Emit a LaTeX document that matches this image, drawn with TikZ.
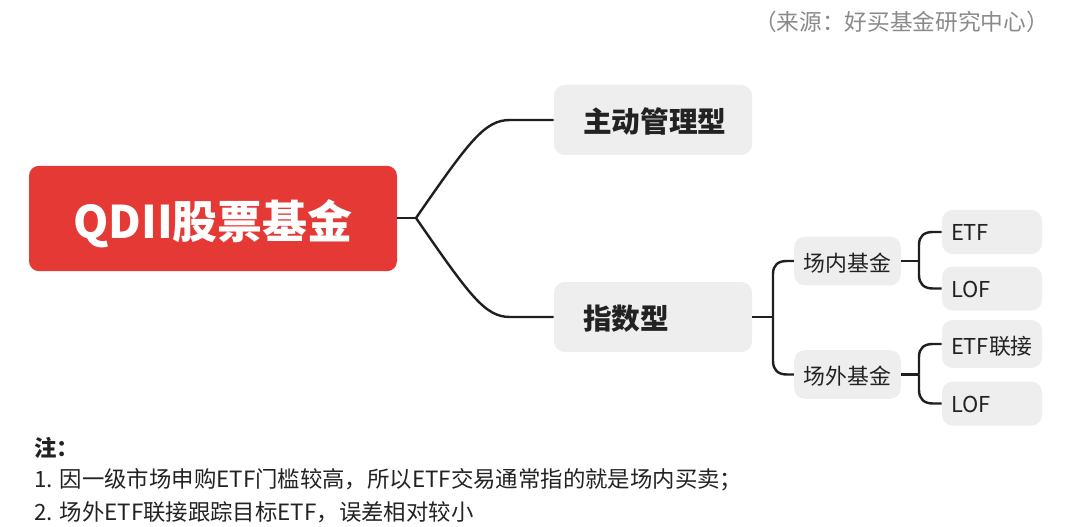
\documentclass[tikz,border=0pt]{standalone}
\usepackage{fontspec}
\setmainfont{Noto Sans CJK SC}
\definecolor{rootred}{HTML}{E53935}
\definecolor{boxgray}{HTML}{EEEEEE}
\definecolor{textdark}{HTML}{222222}
\definecolor{linedark}{HTML}{1F1F1F}
\definecolor{sourcegray}{HTML}{8A8A8A}
\tikzset{
  rootbox/.style={fill=rootred, rounded corners=7.5pt, text=white, font=\fontsize{33.7}{36}\selectfont\bfseries, minimum width=276pt, minimum height=79pt, inner sep=0pt, text height=30.5pt, text depth=0pt},
  bigbox/.style={fill=boxgray, rounded corners=8pt, font=\fontsize{21.5}{24}\selectfont\bfseries, text=textdark, minimum width=148.5pt, minimum height=52.5pt, inner sep=0pt, text width=105pt, align=left, text height=18.6pt, text depth=0pt},
  midbox/.style={fill=boxgray, rounded corners=8pt, font=\fontsize{16.4}{18}\selectfont, text=textdark, minimum width=80pt, minimum height=36.5pt, inner sep=0pt, text height=15.4pt, text depth=0pt},
  leafbox/.style={fill=boxgray, rounded corners=8pt, font=\fontsize{16.4}{18}\selectfont, text=textdark, minimum width=75pt, minimum height=33pt, inner sep=0pt, text width=61.5pt, align=left, text height=13pt, text depth=0pt},
  link/.style={draw=linedark, line width=1.8pt},
  note/.style={anchor=west, inner sep=0pt, font=\fontsize{16.8}{18}\selectfont, text=textdark}
}
\begin{document}
\begin{tikzpicture}[x=0.75pt, y=-0.75pt]
  \useasboundingbox (0,0) rectangle (1080,527);
  \node[rootbox] (qdii) at (213,218.5) {QDII股票基金};
  \node[bigbox] (active) at (653,120) {主动管理型};
  \node[bigbox] (index) at (653,317) {指数型};
  \node[midbox] (inside) at (847.5,261) {场内基金};
  \node[midbox] (outside) at (847.5,374.5) {场外基金};
  \node[leafbox] (etfa) at (992,232) {ETF};
  \node[leafbox] (lofa) at (992,288.5) {LOF};
  \node[leafbox, minimum height=36pt, text height=15pt] (etfb) at (992,344) {ETF联接};
  \node[leafbox] (lofb) at (992,403.5) {LOF};
  \coordinate (forkroot) at (416,218);
  \coordinate (forkindex) at (773,317);
  \coordinate (forkin) at (919,261);
  \coordinate (forkout) at (919,374.5);
  \draw[link] (qdii.east |- forkroot) -- (forkroot);
  \draw[link] (forkroot) .. controls (470,140) and (485,120) .. (510,120) -- (active.west);
  \draw[link] (forkroot) .. controls (470,296) and (485,317) .. (510,317) -- (index.west);
  \draw[link] (index.east) -- (forkindex);
  \draw[link] (inside.west) -- (787,261) .. controls (778,261) and (773,265) .. (773,274) -- (forkindex);
  \draw[link] (outside.west) -- (787,374.5) .. controls (778,374.5) and (773,370) .. (773,361) -- (forkindex);
  \draw[link] (inside.east) -- (forkin);
  \draw[link] (etfa.west) -- (933,232) .. controls (924,232) and (919,236) .. (919,245) -- (forkin);
  \draw[link] (lofa.west) -- (933,288.5) .. controls (924,288.5) and (919,284) .. (919,275) -- (forkin);
  \draw[link] (outside.east) -- (forkout);
  \draw[link] (etfb.west) -- (933,344) .. controls (924,344) and (919,348) .. (919,357) -- (forkout);
  \draw[link] (lofb.west) -- (933,403.5) .. controls (924,403.5) and (919,399) .. (919,390) -- (forkout);
  \node[anchor=east, inner sep=0pt, font=\fontsize{17}{18}\selectfont, text=sourcegray] (source) at (1049,22) {（来源：好买基金研究中心）};
  \node[note, font=\fontsize{16.8}{18}\selectfont\bfseries] (notehead) at (34,448) {注：};
  \node[note] (noteone) at (34,480) {1. 因一级市场申购ETF门槛较高，所以ETF交易通常指的就是场内买卖；};
  \node[note] (notetwo) at (34,512) {2. 场外ETF联接跟踪目标ETF，误差相对较小};
\end{tikzpicture}
\end{document}
